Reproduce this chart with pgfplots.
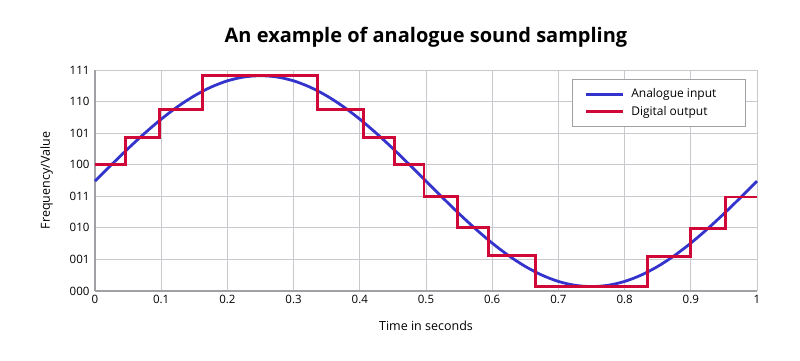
\documentclass[border=0pt]{standalone}
\usepackage{pgfplots}
\pgfplotsset{compat=1.18}
\usepackage{fontspec}
\setmainfont{Open Sans}
\definecolor{ablue}{RGB}{52,52,204}
\definecolor{dred}{RGB}{208,8,56}
\definecolor{gridc}{RGB}{200,200,205}
\definecolor{axc}{RGB}{160,160,165}
\begin{document}
\begin{tikzpicture}
\useasboundingbox (-95pt,-69pt) rectangle (705pt,291pt);
\begin{axis}[
  scale only axis, width=662pt, height=221pt,
  at={(0,0)}, anchor=south west,
  xmin=0, xmax=1, ymin=0, ymax=7,
  axis lines=left, axis line style={axc, line width=1.2pt, -},
  xtick={0,0.1,...,1.0},
  xticklabels={0,0.1,0.2,0.3,0.4,0.5,0.6,0.7,0.8,0.9,1},
  ytick={0,1,...,7},
  yticklabels={000,001,010,011,100,101,110,111},
  major tick length=0pt,
  grid=major, grid style={gridc, line width=0.8pt},
  /pgf/number format/assume math mode=true,
  tick label style={font=\fontsize{11.5}{13}\selectfont, text=black},
  xticklabel style={yshift=-1pt},
  yticklabel style={xshift=-2pt},
  xlabel={Time in seconds}, ylabel={Frequency/Value},
  label style={font=\fontsize{12.5}{15}\selectfont},
  xlabel style={yshift=-10pt},
  ylabel style={yshift=10pt},
  title={\bfseries An example of analogue sound sampling},
  title style={font=\fontsize{20}{24}\selectfont, yshift=13pt},
  legend style={at={(0.983,0.958)}, anchor=north east, draw=axc, line width=0.8pt,
    font=\fontsize{12}{14}\selectfont, inner xsep=12pt, inner ysep=7pt, row sep=3pt,
    /tikz/every odd column/.append style={column sep=5pt}},
  legend cell align=left,
  legend image code/.code={\draw[line width=3pt,#1] (0pt,0pt) -- (37pt,0pt);},
  clip=false,
]
\addplot[ablue, line width=2.8pt, smooth] coordinates {
(0,3.48) (0.025,4.002) (0.05,4.512) (0.075,4.996) (0.1,5.443) (0.125,5.842)
(0.15,6.182) (0.175,6.456) (0.2,6.657) (0.225,6.779) (0.25,6.82) (0.275,6.779)
(0.3,6.657) (0.325,6.456) (0.35,6.182) (0.375,5.842) (0.4,5.443) (0.425,4.996)
(0.45,4.512) (0.475,4.002) (0.5,3.48) (0.525,2.958) (0.55,2.448) (0.575,1.964)
(0.6,1.517) (0.625,1.118) (0.65,0.778) (0.675,0.504) (0.7,0.303) (0.725,0.181)
(0.75,0.14) (0.775,0.181) (0.8,0.303) (0.825,0.504) (0.85,0.778) (0.875,1.118)
(0.9,1.517) (0.925,1.964) (0.95,2.448) (0.975,2.958) (1,3.48)
};
\addlegendentry{Analogue input\rule{15pt}{0pt}}
\addplot[dred, line width=2.8pt, const plot] coordinates {
(0,4.0) (0.046,4.87) (0.098,5.76) (0.162,6.82) (0.336,5.76) (0.405,4.87)
(0.452,4.0) (0.497,3.0) (0.547,2.0) (0.595,1.12) (0.665,0.15) (0.834,1.1)
(0.9,1.98) (0.953,2.98) (1,2.98)
};
\addlegendentry{Digital output}
\end{axis}
\end{tikzpicture}
\end{document}
